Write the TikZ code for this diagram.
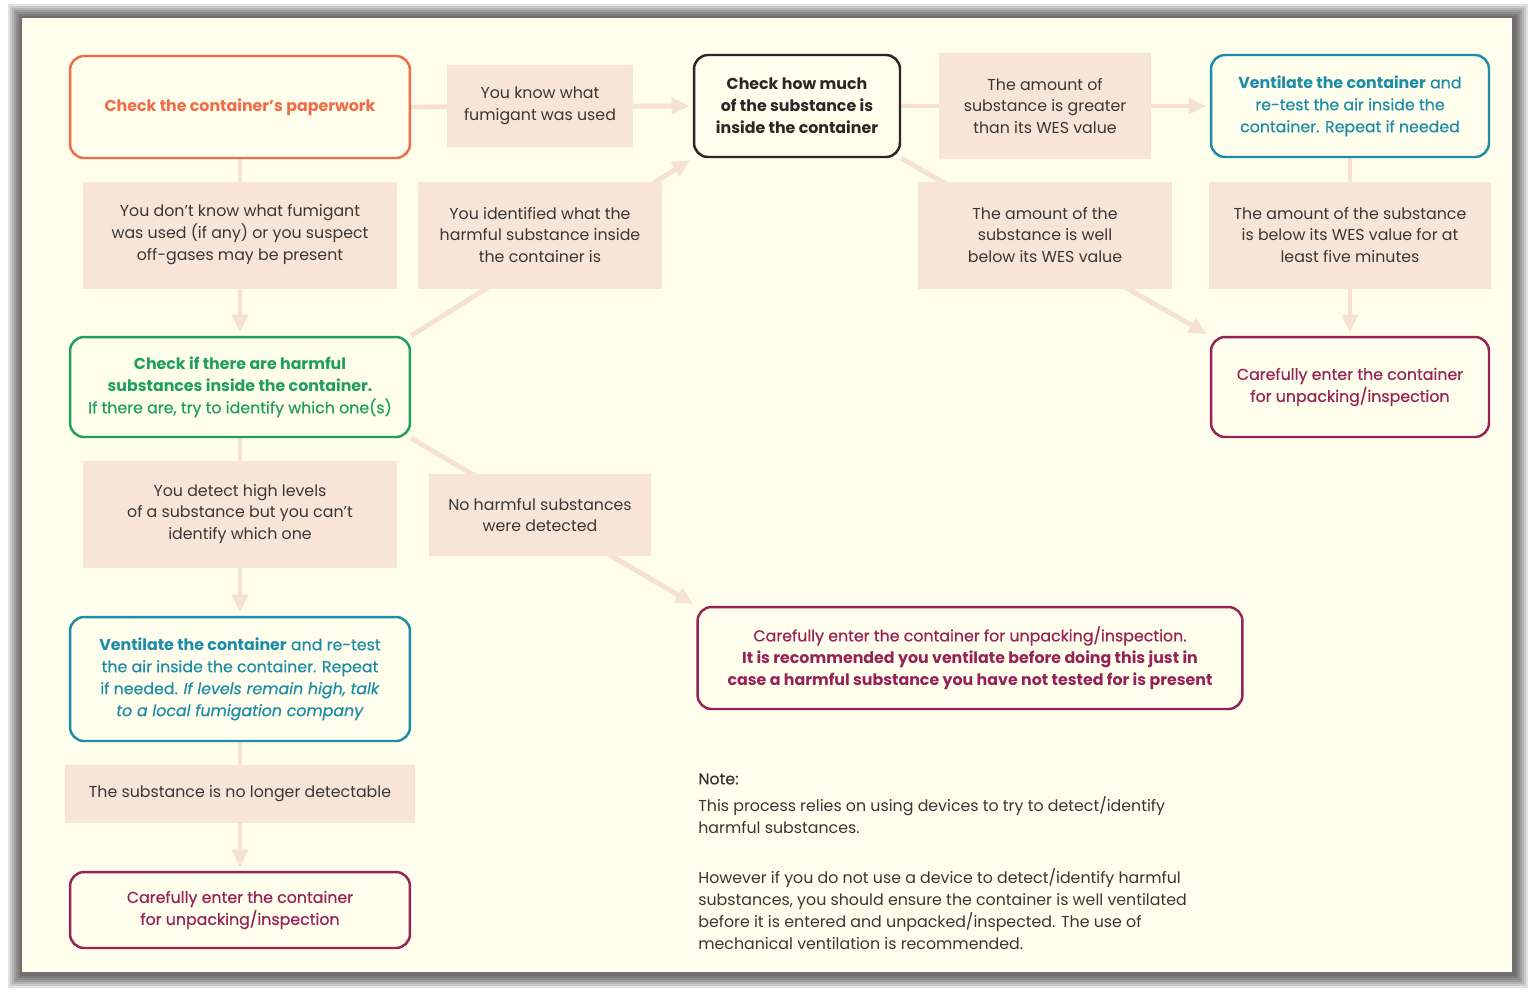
\documentclass[tikz,border=0pt]{standalone}
\usepackage{fontspec}
\setmainfont{Poppins}
\newfontfamily\medfont{Poppins}[FakeBold=0.45]
\newcommand{\heavy}[1]{{\rmfamily\bfseries #1}}
\usepackage{tikz}
\usetikzlibrary{positioning,arrows.meta,backgrounds}
\definecolor{orange}{RGB}{239,108,72}
\definecolor{green}{RGB}{32,158,98}
\definecolor{teal}{RGB}{28,140,168}
\definecolor{maroon}{RGB}{150,35,85}
\definecolor{darkline}{RGB}{40,40,40}
\definecolor{graytext}{RGB}{58,54,54}
\definecolor{condfill}{RGB}{247,230,216}
\definecolor{linkcol}{RGB}{246,226,212}
\definecolor{panel}{RGB}{255,253,236}
\tikzset{
    cond/.style={fill=condfill, text=graytext, align=center, inner sep=0pt, font=\fontsize{9}{12.5}\selectfont},
    stepbox/.style={draw, fill=panel, rounded corners=8pt, line width=1.4pt, align=center, inner sep=0pt, font=\fontsize{9}{12.5}\selectfont\medfont},
    startbox/.style={stepbox, draw=orange, text=orange, font=\fontsize{9}{12.5}\selectfont\bfseries},
    testbox/.style={stepbox, draw=green, text=green},
    measurebox/.style={stepbox, draw=darkline, text=darkline, font=\fontsize{9}{12.5}\selectfont\bfseries},
    ventbox/.style={stepbox, draw=teal, text=teal},
    enterbox/.style={stepbox, draw=maroon, text=maroon},
    link/.style={draw=linkcol, line width=2.8pt},
    arrow/.style={link, -{Triangle[width=9pt,length=10pt]}, shorten >=2pt},
    note/.style={anchor=north west, align=left, text=graytext, inner sep=0pt, font=\fontsize{9}{12.5}\selectfont}
}
\begin{document}
\begin{tikzpicture}[x=0.02cm,y=-0.02cm]
\useasboundingbox (0,0) rectangle (1536,992);
% steps
\node[startbox, minimum width=6.8cm, minimum height=2.04cm] (paperwork) at (240,107) {Check the container’s paperwork};
\node[measurebox, minimum width=4.12cm, minimum height=2.04cm] (checkhow) at (797,106) {Check how much\\of the substance is\\inside the container};
\node[ventbox, minimum width=5.56cm, minimum height=2.04cm] (ventR) at (1350,106) {\heavy{Ventilate the container} and\\re-test the air inside the\\container. Repeat if needed};
\node[testbox, minimum width=6.8cm, minimum height=2.0cm] (checkharm) at (240,387) {\heavy{Check if there are harmful}\\\heavy{substances inside the container.}\\If there are, try to identify which one(s)};
\node[enterbox, minimum width=5.56cm, minimum height=2.0cm] (enterR) at (1350,387) {Carefully enter the container\\for unpacking/inspection};
\node[ventbox, minimum width=6.8cm, minimum height=2.48cm] (ventL) at (240,679) {\heavy{Ventilate the container} and re-test\\the air inside the container. Repeat\\if needed. \textit{If levels remain high, talk}\\\textit{to a local fumigation company}};
\node[enterbox, minimum width=10.9cm, minimum height=2.04cm] (enterM) at (970,658) {Carefully enter the container for unpacking/inspection.\\\heavy{It is recommended you ventilate before doing this just in}\\\heavy{case a harmful substance you have not tested for is present}};
\node[enterbox, minimum width=6.8cm, minimum height=1.52cm] (enterL) at (240,910) {Carefully enter the container\\for unpacking/inspection};
% conditions
\node[cond, minimum width=3.72cm, minimum height=1.64cm] (knowwhat) at (540,106) {You know what\\fumigant was used};
\node[cond, minimum width=4.26cm, minimum height=2.12cm] (greater) at (1045,106) {The amount of\\substance is greater\\than its WES value};
\node[cond, minimum width=6.3cm, minimum height=2.14cm] (dontknow) at (240,235) {You don’t know what fumigant\\was used (if any) or you suspect\\off-gases may be present};
\node[cond, minimum width=4.88cm, minimum height=2.14cm] (identified) at (540,235) {You identified what the\\harmful substance inside\\the container is};
\node[cond, minimum width=5.08cm, minimum height=2.14cm] (wellbelow) at (1045,235) {The amount of the\\substance is well\\below its WES value};
\node[cond, minimum width=5.66cm, minimum height=2.14cm] (belowfive) at (1350,235) {The amount of the substance\\is below its WES value for at\\least five minutes};
\node[cond, minimum width=6.3cm, minimum height=2.14cm] (detecthigh) at (240,514) {You detect high levels\\of a substance but you can’t\\identify which one};
\node[cond, minimum width=4.44cm, minimum height=1.64cm] (noharm) at (540,515) {No harmful substances\\were detected};
\node[cond, minimum width=7.02cm, minimum height=1.16cm] (nolonger) at (240,794) {The substance is no longer detectable};
% note
\node[note] (notetext) at (698,773) {{\medfont Note:}\\[3pt]This process relies on using devices to try to detect/identify\\harmful substances.\\[16pt]However if you do not use a device to detect/identify harmful\\substances, you should ensure the container is well ventilated\\before it is entered and unpacked/inspected. The use of\\mechanical ventilation is recommended.};
\begin{scope}[on background layer]
\fill[white] (0,0) rectangle (1536,992);
\foreach \i in {0,...,6}
    \fill[black, opacity=0.11] (8+2*\i,4+2*\i) rectangle (1528-2*\i,988-2*\i);
\fill[panel] (22,18) rectangle (1512,972);
% connectors
\draw[arrow] (paperwork.east) -- (checkhow.west);
\draw[arrow] (checkhow.east) -- (ventR.west);
\draw[arrow] (paperwork.south) -- (checkharm.north);
\draw[arrow] (checkharm.south) -- (ventL.north);
\draw[arrow] (ventL.south) -- (enterL.north);
\draw[arrow] (ventR.south) -- (enterR.north);
\draw[arrow] (checkharm.north east) -- (checkhow.south west);
\draw[arrow] (checkharm.south east) -- (enterM.north west);
\draw[arrow] (checkhow.south east) -- (enterR.north west);
\end{scope}
\end{tikzpicture}
\end{document}
